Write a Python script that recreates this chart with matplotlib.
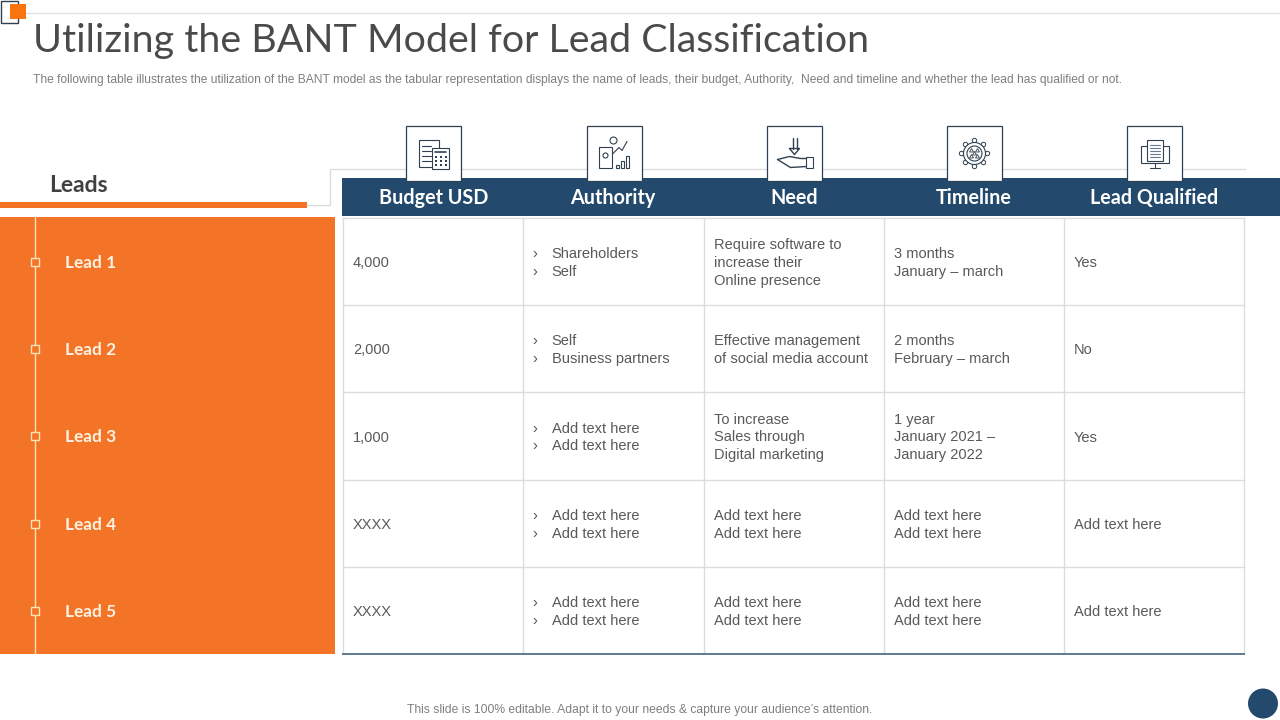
import matplotlib
matplotlib.use("Agg")
import matplotlib.pyplot as plt
from matplotlib.patches import Rectangle, Circle, Polygon

# table content
leads = ["Lead 1", "Lead 2", "Lead 3", "Lead 4", "Lead 5"]
headers = ["Budget USD", "Authority", "Need", "Timeline", "Lead Qualified"]
budget = ["4,000", "2,000", "1,000", "XXXX", "XXXX"]
authority = [["Shareholders", "Self"], ["Self", "Business partners"],
             ["Add text here", "Add text here"], ["Add text here", "Add text here"],
             ["Add text here", "Add text here"]]
need = [["Require software to", "increase their", "Online presence"],
        ["Effective management", "of social media account"],
        ["To increase", "Sales through", "Digital marketing"],
        ["Add text here", "Add text here"], ["Add text here", "Add text here"]]
timeline = [["3 months", "January – march"], ["2 months", "February – march"],
            ["1 year", "January 2021 –", "January 2022"],
            ["Add text here", "Add text here"], ["Add text here", "Add text here"]]
qualified = ["Yes", "No", "Yes", "Add text here", "Add text here"]

title = "Utilizing the BANT Model for Lead Classification"
subtitle = ("The following table illustrates the utilization of the BANT model as the tabular "
            "representation displays the name of leads, their budget, Authority,  Need and timeline "
            "and whether the lead has qualified or not.")
footer = "This slide is 100% editable. Adapt it to your needs & capture your audience’s attention."

ORANGE = "#f47427"
NAVY = "#234a6d"
DARK = "#2f4050"
GRID = "#d9dce0"
TEXT = "#595959"
CREAM = "#fbe3b8"

col_x = [343, 523, 704, 884, 1064, 1244]
row_y = [218, 305, 392, 480, 567, 654]
LINE = 17.6

fig = plt.figure(figsize=(12.8, 7.2), dpi=100)
ax = fig.add_axes([0, 0, 1, 1])
ax.set_xlim(0, 1280)
ax.set_ylim(720, 0)
ax.axis("off")


def rect(x0, y0, x1, y1, **kw):
    ax.add_patch(Rectangle((x0, y0), x1 - x0, y1 - y0, **kw))


def body(x, y, s, **kw):
    ax.text(x, y, s, family="Liberation Sans", fontsize=10.5, color=TEXT, va="center", **kw)


def lines(x, yc, rows, bullet=False):
    top = yc - LINE * (len(rows) - 1) / 2
    for i, s in enumerate(rows):
        if bullet:
            body(x - 19, top + i * LINE, "›")
        body(x, top + i * LINE, s)


# corner mark and header rule
ax.plot([20, 1280], [12.5, 12.5], color="#e2e2e2", lw=1, zorder=1)
rect(0.5, 0.5, 18, 23, fc="white", ec=DARK, lw=1, zorder=2)
rect(10, 4, 26, 19, fc="#f9740f", ec="none", zorder=3)

ax.text(33, 41, title, family="Lato", fontsize=28.35, color="#4a4a4a", va="center")
ax.text(33, 79.5, subtitle, family="Liberation Sans", fontsize=8.62, color="#7f7f7f", va="center")

# thin connector behind the icons
ax.plot([307, 330, 330, 1245], [205, 205, 169, 169], color="#dcdcdc", lw=1)

# left panel
ax.text(49.5, 186, "Leads", family="Lato", fontsize=16.5, fontweight="bold", color="#404040", va="center")
rect(0, 202, 307, 208, fc=ORANGE, ec="none")
rect(0, 217, 335, 654, fc=ORANGE, ec="none")
ax.plot([35, 35], [217, 654], color=CREAM, lw=1)
for i, lead in enumerate(leads):
    yc = (row_y[i] + row_y[i + 1]) / 2
    rect(31, yc - 4, 39, yc + 4, fc=ORANGE, ec=CREAM, lw=1, zorder=3)
    ax.text(65, yc + 1.5, lead, family="Lato", fontsize=12.4, fontweight="bold", color="#fdf1e2", va="center")

# header band
rect(342, 178, 1280, 216, fc=NAVY, ec="none")
header_x = [433.5, 613, 794.5, 974, 1154.5]
for cx, h in zip(header_x, headers):
    ax.text(cx, 204, h, family="Lato", fontsize=14.2, fontweight="bold", color="white", va="baseline", ha="center")

# table grid
for y in row_y[:-1]:
    ax.plot([col_x[0], col_x[-1]], [y, y], color=GRID, lw=1)
for x in col_x:
    ax.plot([x, x], [row_y[0], row_y[-1]], color=GRID, lw=1)
ax.plot([col_x[0], col_x[-1]], [row_y[-1], row_y[-1]], color="#5f7a90", lw=1.4)

for i in range(5):
    yc = (row_y[i] + row_y[i + 1]) / 2 + 1.5
    body(col_x[0] + 10, yc, budget[i])
    lines(col_x[1] + 28.5, yc, authority[i], bullet=True)
    lines(col_x[2] + 10, yc, need[i])
    lines(col_x[3] + 10, yc, timeline[i])
    body(col_x[4] + 10, yc, qualified[i])


# icon boxes, simplified line drawings
def seg(cx, cy, pts, color=DARK, lw=0.8):
    ax.plot([cx + p[0] for p in pts], [cy + p[1] for p in pts], color=color,
            lw=lw, zorder=7, solid_capstyle="round")


def box(cx, cy, x0, y0, x1, y1):
    rect(cx + x0, cy + y0, cx + x1, cy + y1, fc="white", ec=DARK, lw=0.8, zorder=6)


def icon_budget(cx, cy):
    box(cx, cy, -15, -14, 5, 13)
    for y in (-8, -3, 2, 7):
        seg(cx, cy, [(-12, y), (-3, y)])
    box(cx, cy, -2, -6, 15, 15)
    seg(cx, cy, [(1, -2), (12, -2)], lw=1.2)
    for gx in (1, 6, 11):
        for gy in (2, 6, 10):
            rect(cx + gx, cy + gy, cx + gx + 2.5, cy + gy + 2.5, fc=DARK, ec="none", zorder=7)


def icon_authority(cx, cy):
    box(cx, cy, -15, -7, -2, 14)
    ax.add_patch(Circle((cx - 8.5, cy + 2), 2.5, fc="white", ec=DARK, lw=0.8, zorder=7))
    ax.add_patch(Circle((cx - 0.5, cy - 13), 3.5, fc="white", ec=DARK, lw=0.8, zorder=7))
    seg(cx, cy, [(-1, 0), (5, -6), (8, -3), (13, -12)])
    for bx, h in ((2, 3), (7, 7), (12, 12)):
        box(cx, cy, bx, 14 - h, bx + 3, 14)


def icon_need(cx, cy):
    seg(cx, cy, [(-2, -16), (-2, -5)], lw=1)
    seg(cx, cy, [(2, -16), (2, -5)], lw=1)
    seg(cx, cy, [(-5, -5), (0, 1), (5, -5), (-5, -5)], lw=1)
    seg(cx, cy, [(-17, 6), (-5, 3), (6, 5), (12, 5)], lw=1)
    seg(cx, cy, [(-17, 6), (-4, 14), (12, 13)], lw=1)
    box(cx, cy, 11, 3, 18, 14)


def icon_timeline(cx, cy):
    ax.add_patch(Circle((cx, cy), 11, fc="white", ec=DARK, lw=0.8, zorder=6))
    ax.add_patch(Circle((cx, cy), 7.5, fc="white", ec=DARK, lw=0.8, zorder=7))
    for dx, dy in ((0, -13), (0, 13), (-13, 0), (13, 0), (-9, -9), (9, -9), (-9, 9), (9, 9)):
        ax.add_patch(Circle((cx + dx, cy + dy), 2.2, fc="white", ec=DARK, lw=0.7, zorder=5.5))
    for dx, dy in ((-3, -3), (3, -3), (0, 0), (-3, 3), (3, 3)):
        ax.add_patch(Polygon([(cx + dx - 2, cy + dy + 1.5), (cx + dx + 2, cy + dy + 1.5), (cx + dx, cy + dy - 2)],
                             fc="white", ec=DARK, lw=0.6, zorder=8))


def icon_lead(cx, cy):
    box(cx, cy, -14, -8, 14, 9)
    box(cx, cy, -8, -14, 8, 7)
    for y in (-9, -6, -3, 0, 3):
        seg(cx, cy, [(-5, y), (5, y)], color="#6b7c8c")
    seg(cx, cy, [(0, 9), (0, 13)])
    seg(cx, cy, [(-5, 14), (5, 14)])


icons = [icon_budget, icon_authority, icon_need, icon_timeline, icon_lead]
icon_x = [433.5, 614, 794.5, 974.5, 1154.5]
for cx, draw in zip(icon_x, icons):
    rect(cx - 27.5, 126, cx + 27.5, 181, fc="white", ec=DARK, lw=0.9, zorder=5)
    draw(cx, 153.5)

# footer
ax.text(640, 709.5, footer, family="Liberation Sans", fontsize=8.7, color="#7f7f7f", va="center", ha="center")
ax.add_patch(Circle((1263, 703.5), 15, fc=NAVY, ec="none"))

fig.savefig("out.png", dpi=100)
